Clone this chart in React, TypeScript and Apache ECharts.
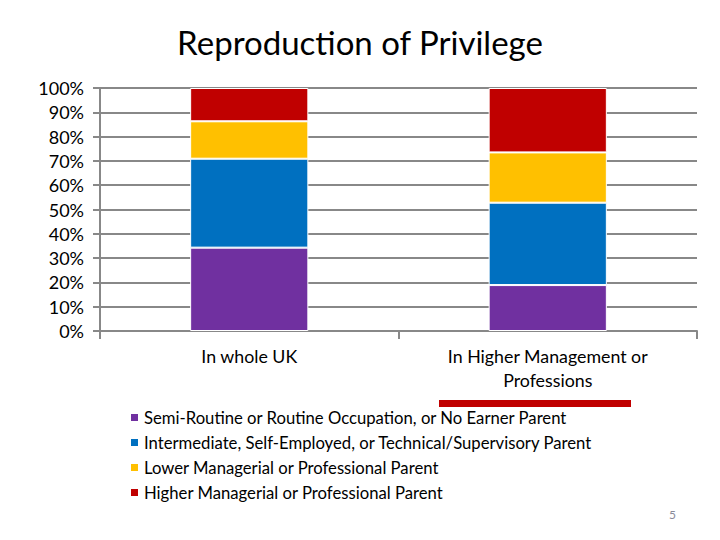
import * as echarts from "echarts";
import { useEffect, useRef } from "react";

const categories = ["In whole UK", "In Higher Management or\nProfessions"];
const seriesNames = [
  "Semi-Routine or Routine Occupation, or No Earner Parent",
  "Intermediate, Self-Employed, or Technical/Supervisory Parent",
  "Lower Managerial or Professional Parent",
  "Higher Managerial or Professional Parent",
];
const semiRoutine = [34.3, 18.9];
const intermediate = [36.6, 33.9];
const lowerManagerial = [15.4, 20.7];
const higherManagerial = [13.7, 26.5];
const colors = ["#7030a0", "#0070c0", "#ffc000", "#c00000"];

const font = "Lato, 'Open Sans', sans-serif";

const App = () => {
  const chartRef = useRef<HTMLDivElement>(null);

  useEffect(() => {
    const myChart = echarts.init(chartRef.current, null, { renderer: "svg" });
    const values = [semiRoutine, intermediate, lowerManagerial, higherManagerial];
    myChart.setOption({
      animation: false,
      title: {
        text: "Reproduction of Privilege",
        left: "center",
        top: 20,
        textStyle: { fontFamily: font, fontSize: 33, fontWeight: "normal", color: "#000" },
      },
      grid: { left: 100, right: 23, top: 88, bottom: 209 },
      legend: {
        orient: "vertical",
        left: 124,
        top: 404,
        itemWidth: 9,
        itemHeight: 9,
        itemGap: 8,
        icon: "rect",
        textStyle: { fontFamily: font, fontSize: 16.7, color: "#000" },
        data: seriesNames,
      },
      xAxis: {
        type: "category",
        data: categories,
        axisLine: { lineStyle: { color: "#888", width: 2 } },
        axisTick: { show: true, length: 8, lineStyle: { color: "#888", width: 2 } },
        axisLabel: {
          fontFamily: font,
          fontSize: 17.8,
          color: "#000",
          margin: 13,
          lineHeight: 24,
        },
      },
      yAxis: {
        type: "value",
        min: 0,
        max: 100,
        interval: 10,
        axisLine: { show: true, lineStyle: { color: "#888", width: 2 } },
        axisTick: { show: true, length: 7, lineStyle: { color: "#888", width: 2 } },
        splitLine: { lineStyle: { color: "#888", width: 2 } },
        axisLabel: {
          formatter: "{value}%",
          fontFamily: font,
          fontSize: 18,
          color: "#000",
          margin: 16,
        },
      },
      series: seriesNames.map((name, i) => ({
        name,
        type: "bar",
        stack: "total",
        barWidth: "39.6%",
        data: values[i],
        itemStyle: { color: colors[i], borderColor: "#fff", borderWidth: 1 },
      })),
      graphic: [
        {
          type: "rect",
          shape: { x: 439, y: 400, width: 192, height: 7 },
          style: { fill: "#c00000" },
        },
        {
          type: "text",
          x: 669,
          y: 508,
          style: { text: "5", fontFamily: font, fontSize: 12, fill: "#8a8a99" },
        },
      ],
    });
    return () => {
      myChart.dispose();
    };
  }, []);

  return (
    <div
      ref={chartRef}
      style={{ position: "fixed", left: 0, top: 0, width: "720px", height: "540px", background: "#fff" }}
    ></div>
  );
};

export default App;
